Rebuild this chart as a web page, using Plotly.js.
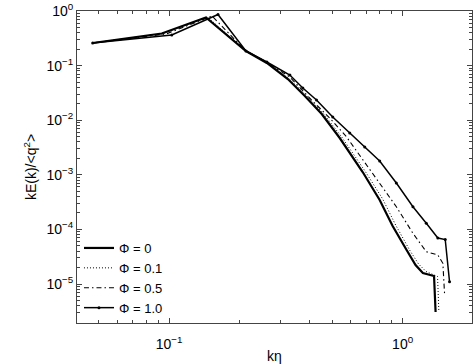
<!DOCTYPE html>
<html>
<head>
<meta charset="utf-8">
<script src="https://cdn.plot.ly/plotly-3.0.1.min.js"></script>
<style>html,body{margin:0;padding:0;background:#fff;}#chart{width:474px;height:364px;}</style>
</head>
<body>
<div id="chart"></div>
<script>
// Φ = 0 (solid, thick)
const k_phi0 = [0.0471, 0.0931, 0.1439, 0.2134, 0.2623, 0.3226, 0.3814, 0.4506, 0.538, 0.6745, 0.7976, 0.9063, 1.040, 1.136, 1.221, 1.363, 1.384];
const E_phi0 = [0.2594, 0.387, 0.760, 0.185, 0.1116, 0.0568, 0.02774, 0.01299, 0.00472, 0.001125, 3.455e-4, 1.154e-4, 4.195e-5, 2.23e-5, 1.59e-5, 1.401e-5, 3.07e-6];
// Φ = 0.1 (dotted)
const k_phi01 = [0.0471, 0.0943, 0.1461, 0.2134, 0.2623, 0.3257, 0.3889, 0.4596, 0.5487, 0.6947, 0.8215, 0.9335, 1.071, 1.170, 1.260, 1.411, 1.429];
const E_phi01 = [0.2594, 0.387, 0.776, 0.185, 0.1116, 0.0580, 0.02774, 0.01299, 0.00492, 0.001125, 3.604e-4, 1.204e-4, 4.195e-5, 2.324e-5, 1.694e-5, 1.372e-5, 3.2e-6];
// Φ = 0.5 (dash-dot)
const k_phi05 = [0.0471, 0.0971, 0.1527, 0.2134, 0.2623, 0.329, 0.4073, 0.4876, 0.5745, 0.7465, 0.9399, 1.107, 1.263, 1.415, 1.487, 1.512];
const E_phi05 = [0.2594, 0.379, 0.810, 0.185, 0.114, 0.0618, 0.02344, 0.01097, 0.004986, 0.001065, 2.604e-4, 8.48e-5, 3.904e-5, 3.398e-5, 2.393e-5, 6.56e-6];
// Φ = 1.0 (solid with dots)
const k_phi1 = [0.0471, 0.1027, 0.162, 0.2134, 0.2623, 0.329, 0.3738, 0.4278, 0.5022, 0.5937, 0.6882, 0.7976, 0.9399, 1.107, 1.263, 1.415, 1.522, 1.588];
const E_phi1 = [0.2594, 0.3634, 0.863, 0.185, 0.1164, 0.0673, 0.0389, 0.02344, 0.01145, 0.00583, 0.00323, 0.00179, 7.08e-4, 2.604e-4, 1.293e-4, 6.96e-5, 6.53e-5, 1.101e-5];

const seriesNames = ['Φ = 0', 'Φ = 0.1', 'Φ = 0.5', 'Φ = 1.0'];

// tick labels
const xTickVals = [0.1, 1];
const xTickText = ['10<sup>−1</sup>', '10<sup>0</sup>'];
const yTickVals = [1, 0.1, 0.01, 0.001, 1e-4, 1e-5];
const yTickText = ['10<sup>0</sup>', '10<sup>−1</sup>', '10<sup>−2</sup>', '10<sup>−3</sup>', '10<sup>−4</sup>', '10<sup>−5</sup>'];

const font = {family: '"Liberation Sans", Arial, sans-serif', color: '#000'};

const traces = [
  {x: k_phi0, y: E_phi0, name: seriesNames[0], mode: 'lines', line: {color: '#000', width: 2.2}},
  {x: k_phi01, y: E_phi01, name: seriesNames[1], mode: 'lines', line: {color: '#000', width: 1, dash: '1px,2px'}},
  {x: k_phi05, y: E_phi05, name: seriesNames[2], mode: 'lines', line: {color: '#000', width: 1.1, dash: '5px,3px,1.5px,3px'}},
  {x: k_phi1, y: E_phi1, name: seriesNames[3], mode: 'lines+markers', line: {color: '#000', width: 1.5}, marker: {color: '#000', size: 3, symbol: 'circle'}}
];

const axisCommon = {
  type: 'log', showgrid: false, zeroline: false, showline: true, linecolor: '#444', linewidth: 1,
  mirror: 'ticks', ticks: 'inside', ticklen: 5, tickcolor: '#444', tickwidth: 1,
  tickmode: 'array', tickfont: Object.assign({size: 14}, font),
  minor: {ticks: 'inside', ticklen: 3, tickcolor: '#444', dtick: 'D1', showgrid: false}
};

const layout = {
  width: 474, height: 364,
  margin: {l: 77, r: 1.5, t: 11, b: 41},
  paper_bgcolor: '#fff', plot_bgcolor: '#fff',
  font: font,
  showlegend: true,
  legend: {x: 0.005, y: 0.0, xanchor: 'left', yanchor: 'bottom', bgcolor: 'rgba(0,0,0,0)', font: Object.assign({size: 13}, font)},
  xaxis: Object.assign({}, axisCommon, {range: [-1.394, 0.297], tickvals: xTickVals, ticktext: xTickText, ticklabelstandoff: 8, title: {text: 'kη', font: Object.assign({size: 14}, font), standoff: 2}}),
  yaxis: Object.assign({}, axisCommon, {range: [-5.714, 0], tickvals: yTickVals, ticktext: yTickText, title: {text: 'kE(k)/&lt;q<sup>2</sup>&gt;', font: Object.assign({size: 14}, font), standoff: 6}})
};

Plotly.newPlot('chart', traces, layout, {displayModeBar: false, staticPlot: true});
</script>
</body>
</html>
